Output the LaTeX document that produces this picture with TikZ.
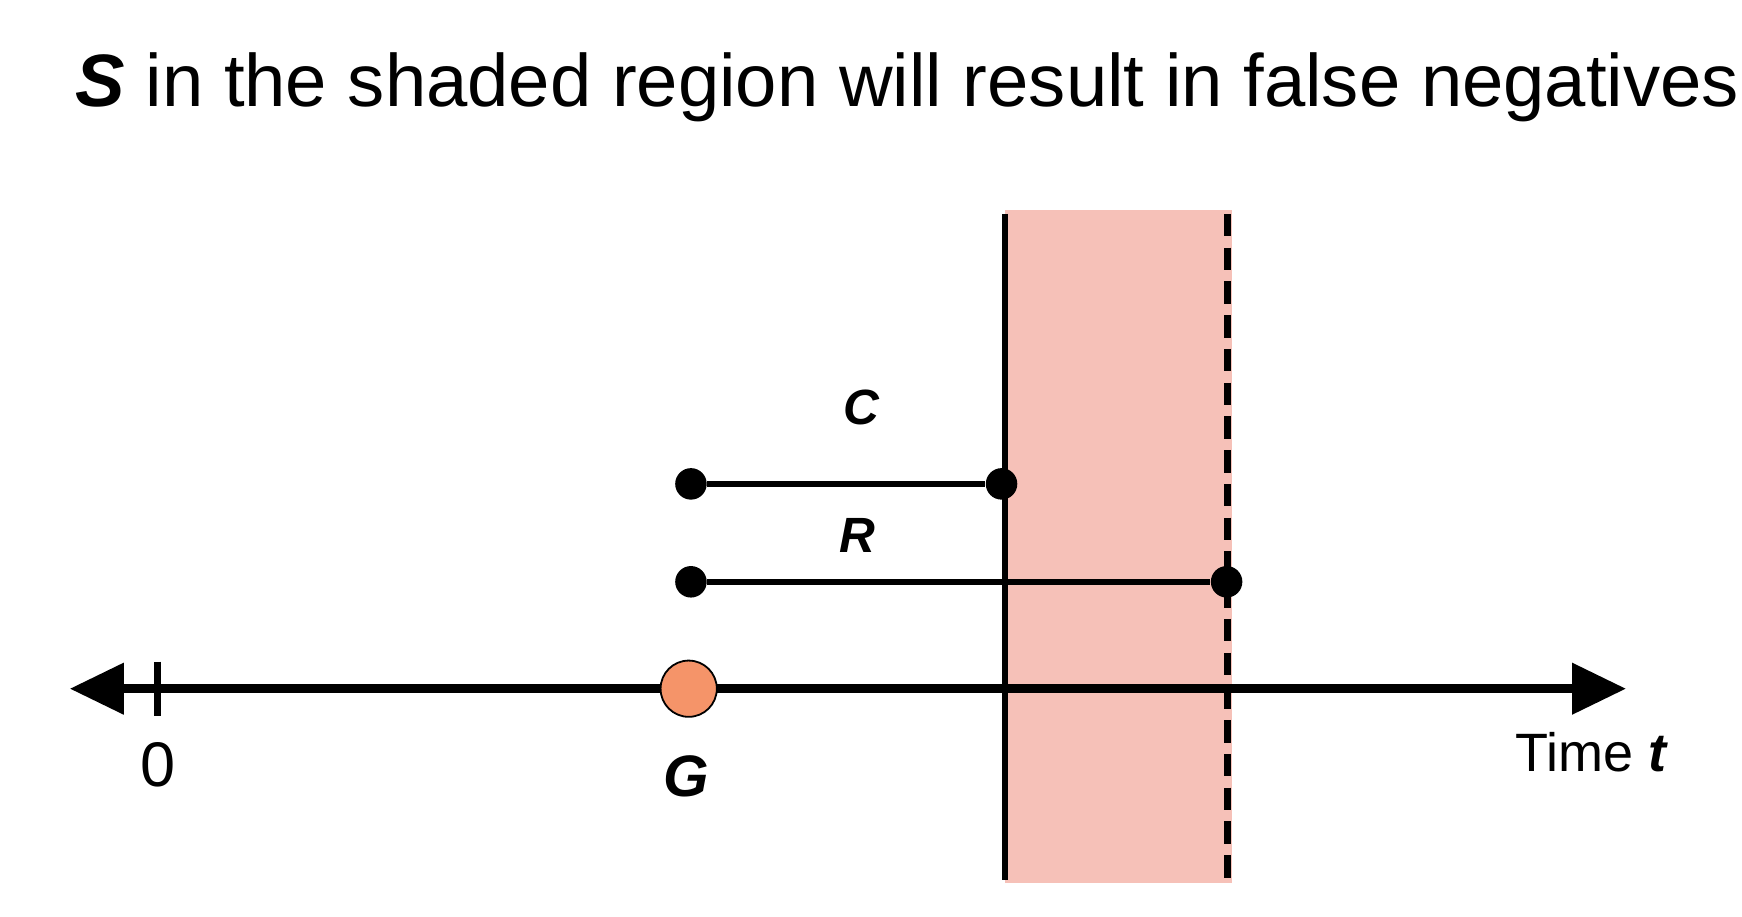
\documentclass[tikz,border=0pt]{standalone}
\usepackage{fontspec}
\setmainfont{Liberation Sans}
\usetikzlibrary{arrows.meta}
\begin{document}
\begin{tikzpicture}[x=0.5pt,y=-0.5pt,
  dot/.style={circle,fill=black,inner sep=0pt,minimum size=14pt},
  lbl/.style={font=\fontsize{22}{26}\selectfont\bfseries\itshape},
  seg/.style={line width=2.5pt}]
\useasboundingbox (0,0) rectangle (1548,814);
\fill[fill={rgb,255:red,246;green,193;blue,184}] (893,187) rectangle (1095,785);
\node[anchor=base west,font=\fontsize{33}{38}\selectfont] (title) at (60,95) {\textbf{\textit{S}} in the shaded region will result in false negatives};
\coordinate (al) at (62,612); \coordinate (ar) at (1445,612);
\draw[line width=4pt,{Triangle[length=24pt,width=22pt]}-{Triangle[length=24pt,width=22pt]}] (al) -- (ar);
\coordinate (t0) at (140,588); \coordinate (t1) at (140,636);
\draw[line width=3pt] (t0) -- (t1);
\node[font=\fontsize{28}{32}\selectfont] (zero) at (140,680) {0};
\coordinate (vs0) at (893,190); \coordinate (vs1) at (893,782);
\draw[line width=2.5pt] (vs0) -- (vs1);
\coordinate (vd0) at (1091,190); \coordinate (vd1) at (1091,782);
\draw[line width=3pt,dash pattern=on 10pt off 5pt] (vd0) -- (vd1);
\node[dot] (c0) at (614,430) {}; \node[dot] (c1) at (890,430) {};
\draw[seg] (c0) -- (c1);
\node[dot] (r0) at (614,517) {}; \node[dot] (r1) at (1090,517) {};
\draw[seg] (r0) -- (r1);
\node[lbl] (C) at (765,362) {C};
\node[lbl] (R) at (762,476) {R};
\node[circle,draw=black,line width=0.8pt,fill={rgb,255:red,245;green,148;blue,105},minimum size=25pt,inner sep=0pt] (G) at (612,612) {};
\node[lbl,font=\fontsize{26}{30}\selectfont\bfseries\itshape] (Gl) at (610,690) {G};
\node[anchor=east,font=\fontsize{24}{28}\selectfont] (time) at (1490,668) {Time \textbf{\textit{t}}};
\end{tikzpicture}
\end{document}
